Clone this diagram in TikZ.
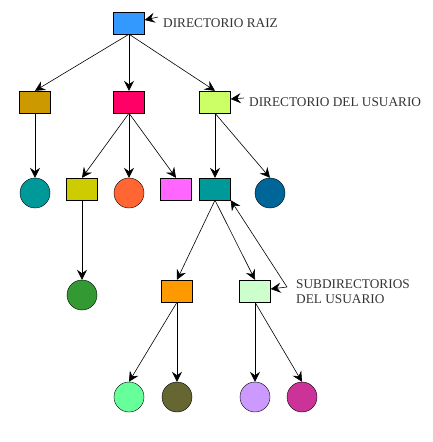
\documentclass[tikz,border=0pt]{standalone}
\usepackage{fontspec}
\setmainfont{Liberation Serif}
\usetikzlibrary{arrows.meta}
\tikzset {>={Stealth[length=10pt,width=10pt,inset=3.5pt]}}
\tikzset{
  dirbox/.style={draw,rectangle,minimum width=31pt,minimum height=22pt,inner sep=0pt},
  filecirc/.style={draw,circle,minimum size=30pt,inner sep=0pt},
  lbl/.style={font=\fontsize{13.3}{15}\selectfont,anchor=west,inner sep=0pt,text=black!80,align=left},
  edge/.style={->,line width=.6pt}
}
\definecolor{cRoot}{HTML}{3399FF}
\definecolor{cBrown}{HTML}{CC9900}
\definecolor{cPink}{HTML}{FF0066}
\definecolor{cLime}{HTML}{CCFF66}
\definecolor{cTeal}{HTML}{009999}
\definecolor{cOlive}{HTML}{CCCC00}
\definecolor{cOrRed}{HTML}{FF6633}
\definecolor{cMag}{HTML}{FF66FF}
\definecolor{cBlue}{HTML}{006699}
\definecolor{cGreen}{HTML}{339933}
\definecolor{cOrange}{HTML}{FF9900}
\definecolor{cPale}{HTML}{CCFFCC}
\definecolor{cMint}{HTML}{66FF99}
\definecolor{cDark}{HTML}{666633}
\definecolor{cLilac}{HTML}{CC99FF}
\definecolor{cPlum}{HTML}{CC3399}
\begin{document}
\begin{tikzpicture}[x=1pt,y=-1pt]
\useasboundingbox (0,0) rectangle (432,442);
% Directories
\node[dirbox,fill=cRoot]   (root) at (129,23)  {};
\node[dirbox,fill=cBrown]  (dA)   at (35,102)  {};
\node[dirbox,fill=cPink]   (dB)   at (129,102) {};
\node[dirbox,fill=cLime]   (dU)   at (215,102) {};
\node[dirbox,fill=cOlive]  (dC)   at (82,189)  {};
\node[dirbox,fill=cMag]    (dD)   at (176,189) {};
\node[dirbox,fill=cTeal]   (dE)   at (215,189) {};
\node[dirbox,fill=cOrange] (dF)   at (177,291) {};
\node[dirbox,fill=cPale]   (dG)   at (255,291) {};

% Files
\node[filecirc,fill=cTeal]  (fA) at (35,193)  {};
\node[filecirc,fill=cOrRed] (fB) at (129,193) {};
\node[filecirc,fill=cBlue]  (fC) at (270,193) {};
\node[filecirc,fill=cGreen] (fD) at (82,295)  {};
\node[filecirc,fill=cMint]  (fE) at (129,397) {};
\node[filecirc,fill=cDark]  (fF) at (177,397) {};
\node[filecirc,fill=cLilac] (fG) at (255,397) {};
\node[filecirc,fill=cPlum]  (fH) at (302,397) {};

% Tree edges
\foreach \p/\c in {root/dA,root/dB,root/dU,dA/fA,dB/dC,dB/fB,dB/dD,
                   dU/dE,dU/fC,dC/fD,dE/dF,dE/dG,dF/fE,dF/fF,dG/fG,dG/fH}
  \draw[edge] (\p.south) -- (\c.north);

% Labels
\node[lbl] (lRoot) at (163,23)  {DIRECTORIO RAIZ};
\node[lbl] (lUser) at (249,102) {DIRECTORIO DEL USUARIO};
\node[lbl] (lSub)  at (296,292) {SUBDIRECTORIOS\\DEL USUARIO};

\coordinate (tRoot) at (158,17);
\coordinate (tUser) at (244,98);
\coordinate (tSub)  at (287,287);
\draw[edge] (tRoot) -- (root.east |- 0,20);
\draw[edge] (tUser) -- (dU.east |- 0,99);
\draw[edge] (tSub) -- (dG.east |- 0,289);
\draw[edge] (tSub) -- (dE.south east);
\end{tikzpicture}
\end{document}
